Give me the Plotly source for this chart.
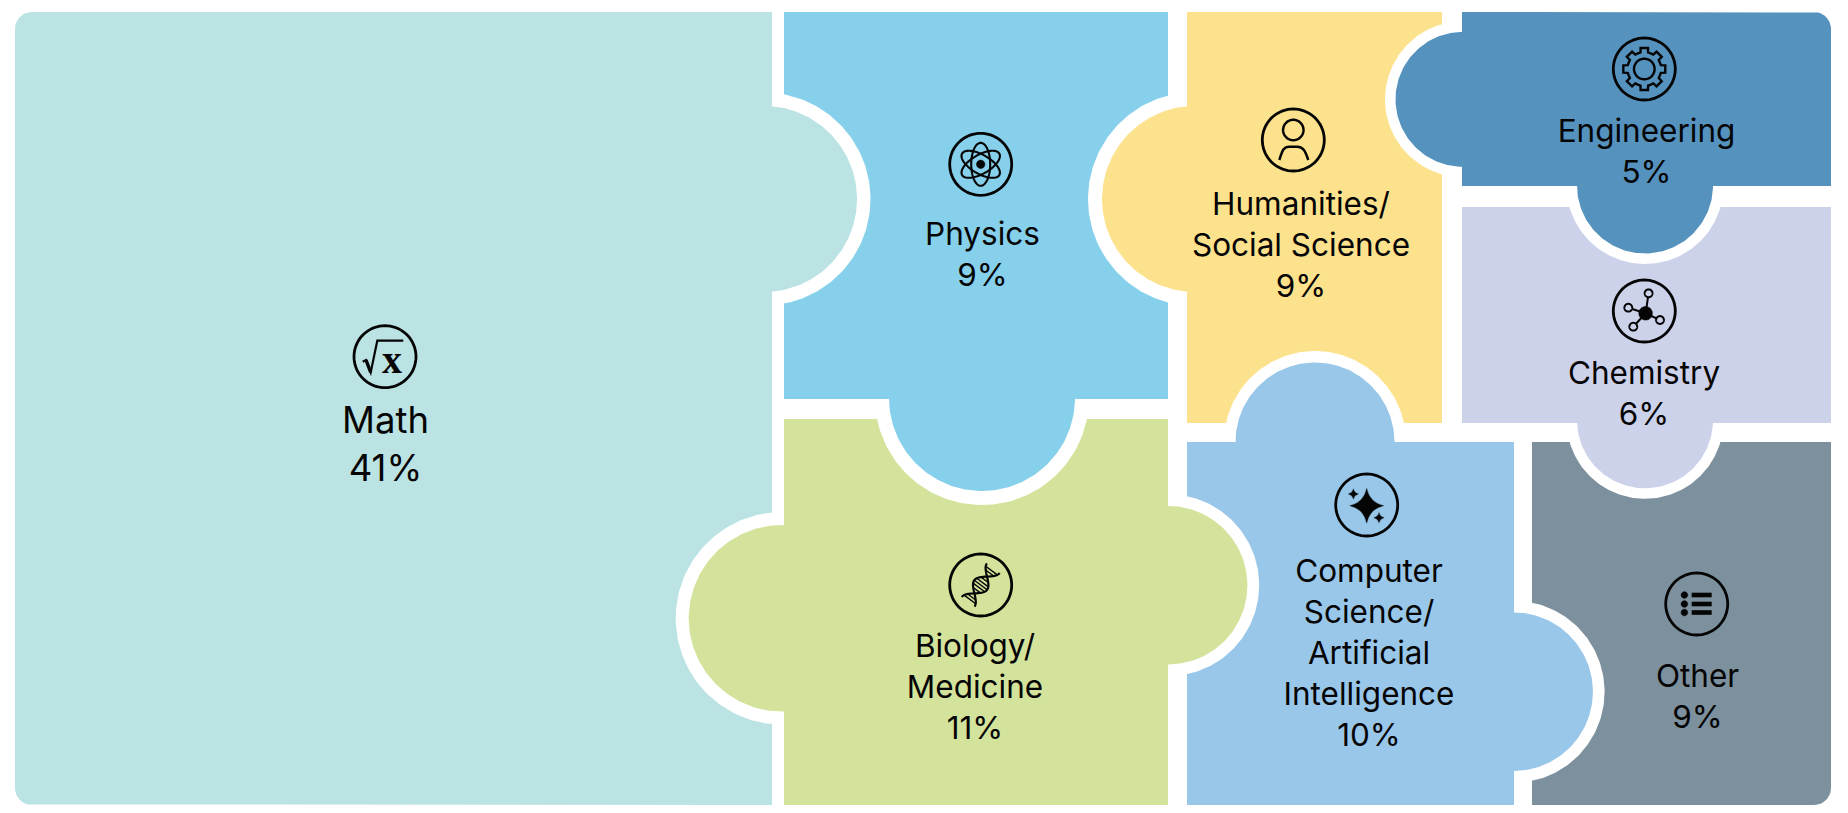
import math
import plotly.graph_objects as go

# ---- data -----------------------------------------------------------------
categories = ["Math", "Physics", "Humanities/\nSocial Science", "Engineering", "Chemistry",
              "Biology/\nMedicine", "Computer\nScience/\nArtificial\nIntelligence", "Other"]
shares = [41, 9, 9, 5, 6, 11, 10, 9]
colors = ["#BBE3E3", "#87D0EC", "#FDE28D", "#5592BE", "#CDD2EB", "#D4E39B", "#99C7EA", "#7D909D"]

# ---- layout geometry (pixel-like axis units) -------------------------------
W, H = 1848, 813
tiles = [  # x0, y0, x1, y1, rounded corners
    (15, 12, 772, 805, "tl bl"),
    (784, 12, 1168, 399, ""),
    (1187, 12, 1442, 423, ""),
    (1462, 12, 1831, 186, "tr"),
    (1462, 207, 1831, 423, ""),
    (784, 419, 1168, 805, ""),
    (1187, 442, 1514, 805, ""),
    (1532, 442, 1831, 805, "br"),
]
tabs = [  # tile, side, edge, cx, cy, r, halo r
    (0, "r", 772, 764, 199, 93, 106.5),
    (1, "b", 399, 982, 398, 93, 107),
    (2, "l", 1187, 1195, 199, 93, 107),
    (3, "l", 1462, 1463, 99.3, 67.5, 78),
    (3, "b", 186, 1645, 185.5, 68, 78.5),
    (4, "b", 423, 1645, 420.3, 68, 78.5),
    (5, "l", 784, 782, 618.3, 93.3, 106.3),
    (5, "r", 1168, 1168.2, 585.2, 79.2, 91),
    (6, "t", 442, 1315, 442, 79.5, 91),
    (6, "r", 1514, 1513.6, 691.7, 79.3, 91),
]
label_pos = [(385.5, 448), (982.5, 258), (1301, 248), (1646.5, 155), (1644, 396.5),
             (975, 690.5), (1369, 656.5), (1697.5, 700)]
label_size = [36.5, 31.5, 31.5, 31.5, 31.5, 31.5, 31.5, 31.5]
icon_pos = [(385, 356.7), (980.7, 164.3), (1293.3, 140), (1644.3, 69), (1644.3, 311),
            (980.7, 585), (1366.7, 505), (1696.7, 604)]
ICON_R = 31
CORNER = 17
FONT = "Inter"


def rect_points(x0, y0, x1, y1, rounded):
    r = CORNER
    def arc(cx, cy, a0, a1):
        return [(cx + r * math.cos(math.radians(a0 + (a1 - a0) * i / 12)),
                 cy + r * math.sin(math.radians(a0 + (a1 - a0) * i / 12))) for i in range(13)]
    pts = []
    pts += arc(x0 + r, y0 + r, 180, 270) if "tl" in rounded else [(x0, y0)]
    pts += arc(x1 - r, y0 + r, 270, 360) if "tr" in rounded else [(x1, y0)]
    pts += arc(x1 - r, y1 - r, 0, 90) if "br" in rounded else [(x1, y1)]
    pts += arc(x0 + r, y1 - r, 90, 180) if "bl" in rounded else [(x0, y1)]
    pts.append(pts[0])
    return pts


def segment(side, edge, cx, cy, r):
    d, p = {"r": ((1, 0), (0, 1)), "l": ((-1, 0), (0, 1)),
            "b": ((0, 1), (1, 0)), "t": ((0, -1), (1, 0))}[side]
    offset = (edge - cx) * d[0] + (edge - cy) * d[1]
    amax = math.acos(max(-1, min(1, offset / r)))
    pts = []
    for i in range(121):
        a = -amax + 2 * amax * i / 120
        pts.append((cx + r * (math.cos(a) * d[0] + math.sin(a) * p[0]),
                    cy + r * (math.cos(a) * d[1] + math.sin(a) * p[1])))
    pts.append(pts[0])
    return pts


def fill_trace(pts, color, name, hover=True):
    return go.Scatter(x=[q[0] for q in pts], y=[q[1] for q in pts], mode="lines", fill="toself",
                      fillcolor=color, line=dict(width=0, color=color), name=name, showlegend=False,
                      hoveron="fills", hoverinfo="text" if hover else "skip", text=name)


fig = go.Figure()
names = [f"{c.replace(chr(10), ' ')}: {s}%" for c, s in zip(categories, shares)]
for i, (x0, y0, x1, y1, rd) in enumerate(tiles):
    fig.add_trace(fill_trace(rect_points(x0, y0, x1, y1, rd), colors[i], names[i]))
for t, side, edge, cx, cy, r, hr in tabs:
    fig.add_trace(fill_trace(segment(side, edge, cx, cy, hr), "#FFFFFF", "halo", hover=False))
for t, side, edge, cx, cy, r, hr in tabs:
    inward = {"r": -1, "l": 1, "b": -1, "t": 1}[side]
    fig.add_trace(fill_trace(segment(side, edge + inward, cx, cy, r), colors[t], names[t]))

for i, (c, s) in enumerate(zip(categories, shares)):
    fig.add_trace(go.Scatter(x=[label_pos[i][0]], y=[label_pos[i][1]], mode="text",
                             text=[c.replace("\n", "<br>") + f"<br>{s}%"], textposition="middle center",
                             textfont=dict(family=FONT, size=label_size[i], color="#050505"),
                             showlegend=False, hoverinfo="skip"))


# ---- icons -----------------------------------------------------------------
def poly(pts, close=False):
    return "M" + " L".join(f"{x:.2f},{y:.2f}" for x, y in pts) + (" Z" if close else "")


def circle_pts(cx, cy, r, n=72):
    return [(cx + r * math.cos(2 * math.pi * i / n), cy + r * math.sin(2 * math.pi * i / n)) for i in range(n)]


shapes = []


def add(path, lw=2.0, fill=None):
    shapes.append(dict(type="path", path=path, xref="x", yref="y", layer="above",
                       line=dict(color="#050505", width=lw),
                       fillcolor=fill if fill else "rgba(0,0,0,0)"))


for cx, cy in icon_pos:
    add(poly(circle_pts(cx, cy, ICON_R), True), 2.8)


def loc(i, pts):
    cx, cy = icon_pos[i]
    return [(cx + x, cy + y) for x, y in pts]


# math: root sign
add(poly(loc(0, [(-22.3, 5), (-19, 3.3), (-14.3, 15.7), (-7.7, -16), (18.3, -16)])), 2.2)
add(poly(loc(0, [(-19, 3.3), (-14.3, 15.7)])), 3.4)

# physics: three orbits and nucleus
for rot in (90, 30, -30):
    c, s = math.cos(math.radians(rot)), math.sin(math.radians(rot))
    e = [(21.5 * math.cos(a / 36 * math.pi) * c - 9.5 * math.sin(a / 36 * math.pi) * s,
          21.5 * math.cos(a / 36 * math.pi) * s + 9.5 * math.sin(a / 36 * math.pi) * c) for a in range(72)]
    add(poly(loc(1, e), True), 2.1)
add(poly(loc(1, circle_pts(0, 0, 4.2)), True), 0.5, "#050505")

# person
add(poly(loc(2, circle_pts(0, -10, 10.2)), True), 2.5)
cx, cy = icon_pos[2]
add(f"M{cx-14:.1f},{cy+20:.1f} C{cx-11:.1f},{cy+11:.1f} {cx-10:.1f},{cy+6.7:.1f} {cx-4:.1f},{cy+6.7:.1f} "
    f"L{cx+4:.1f},{cy+6.7:.1f} C{cx+10:.1f},{cy+6.7:.1f} {cx+12:.1f},{cy+11:.1f} {cx+15:.1f},{cy+20:.1f}", 2.5)

# gear
gear = []
for k in range(8):
    base = k * 45 - 90
    for da, rr in ((-22.5, 16.8), (-13, 17), (-10, 21.3), (10, 21.3), (13, 17)):
        a = math.radians(base + da)
        gear.append((rr * math.cos(a), rr * math.sin(a)))
add(poly(loc(3, gear), True), 2.4)
add(poly(loc(3, circle_pts(0, 0, 10.3)), True), 2.4)

# molecule
hub = (1.3, 2.3)
for q in ((4.3, -17.7), (-16, -3.3), (-11, 15.7), (15.7, 9)):
    add(poly(loc(4, [hub, q])), 2.0)
for q in ((4.3, -17.7), (-16, -3.3), (-11, 15.7), (15.7, 9)):
    add(poly(loc(4, circle_pts(q[0], q[1], 3.9)), True), 2.0, colors[4])
add(poly(loc(4, circle_pts(hub[0], hub[1], 6.8)), True), 0.5, "#050505")

# dna
ax = (0.6, -0.8)  # axis direction towards the upper right
pr = (0.8, 0.6)


def dna_pt(u, v):
    return (u * ax[0] + v * pr[0], u * ax[1] + v * pr[1])


s1 = [dna_pt(u, 8 * math.cos(math.pi * u / 21)) for u in [-21 + i * 0.7 for i in range(61)]]
s2 = [dna_pt(u, -8 * math.cos(math.pi * u / 21)) for u in [-21 + i * 0.7 for i in range(61)]]
add(poly(loc(5, s1)), 2.2)
add(poly(loc(5, s2)), 2.2)
for u in (-18, -15, -6.5, -3, 0, 3, 6.5, 15, 18):
    v = 8 * abs(math.cos(math.pi * u / 21))
    add(poly(loc(5, [dna_pt(u, v), dna_pt(u, -v)])), 1.4)


# sparkles
def star(x, y, rx, ry, t=0.12):
    return (f"M{x},{y-ry} Q{x+rx*t},{y-ry*t} {x+rx},{y} Q{x+rx*t},{y+ry*t} {x},{y+ry} "
            f"Q{x-rx*t},{y+ry*t} {x-rx},{y} Q{x-rx*t},{y-ry*t} {x},{y-ry} Z")


cx, cy = icon_pos[6]
add(star(cx, cy + 0.7, 17, 17.5, 0.18), 0.3, "#050505")
add(star(cx - 13.3, cy - 11, 5.2, 5.2, 0.18), 0.3, "#050505")
add(star(cx + 12.3, cy + 12.7, 5.2, 5.2, 0.18), 0.3, "#050505")

# list
for dy in (-9, 0, 8.5):
    add(poly(loc(7, circle_pts(-12.3, dy, 3.3)), True), 0.5, "#050505")
    add(poly(loc(7, [(-5, dy), (15, dy)])), 4.6)

annotations = [dict(x=icon_pos[0][0] + 6.5, y=icon_pos[0][1] + 3, xref="x", yref="y", text="<b>x</b>",
                    showarrow=False, font=dict(family="Liberation Serif", size=40, color="#050505"))]

fig.update_layout(
    width=W, height=H, margin=dict(l=0, r=0, t=0, b=0), paper_bgcolor="#FFFFFF", plot_bgcolor="#FFFFFF",
    showlegend=False, shapes=shapes, annotations=annotations, hovermode="closest",
    xaxis=dict(range=[0, W], visible=False, fixedrange=True),
    yaxis=dict(range=[H, 0], visible=False, fixedrange=True),
)
fig.write_html("out.html", config=dict(displayModeBar=False),
               post_script="document.body.style.margin='0';document.body.style.overflow='hidden';")
